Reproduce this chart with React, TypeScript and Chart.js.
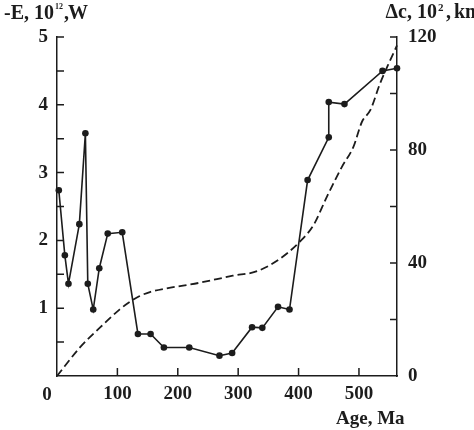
import { useEffect, useRef } from "react";
import { Chart, registerables } from "chart.js";

Chart.register(...registerables);

// solid curve: -E, 10^12 W (left axis)
const eAge = [3, 13, 19, 37, 47, 51, 60, 70, 84, 108, 134, 155, 177, 219, 269, 290, 323, 340, 366, 385, 415, 450, 450, 476, 539, 563];
const eVal = [2.74, 1.78, 1.36, 2.24, 3.58, 1.36, 0.98, 1.59, 2.1, 2.12, 0.62, 0.62, 0.42, 0.42, 0.3, 0.34, 0.72, 0.71, 1.02, 0.98, 2.89, 3.52, 4.04, 4.01, 4.5, 4.54];

// dashed curve: Δc, 10^2 km (right axis)
const cAge = [0, 38, 71, 104, 121, 137, 155, 181, 236, 291, 330, 363, 402, 425, 447, 472, 491, 505, 519, 535, 552, 563];
const cVal = [0, 10.1, 17.1, 23.6, 26.3, 28.3, 29.8, 31, 33, 35.5, 37, 40.6, 47.5, 53.5, 63.5, 74.1, 81.2, 90, 94.2, 103.6, 111.9, 117];

// tick labels / tick marks
const xLabels = [100, 200, 300, 400, 500];
const yLabels = [1, 2, 3, 4, 5];
const y1Labels = [0, 40, 80, 120];
const yMarks = [0.5, 1, 1.5, 2, 2.5, 3, 3.5, 4, 4.5, 5];
const y1Marks = [20, 40, 60, 80, 100, 120];

const FONT = '"Liberation Serif", "Times New Roman", serif';
const INK = "#1c1c1c";

const decor = {
  id: "decor",
  afterDraw(chart: any) {
    const { ctx, scales } = chart;
    const { x, y, y1 } = scales;
    ctx.save();
    ctx.strokeStyle = INK;
    ctx.lineWidth = 1.5;
    ctx.beginPath();
    // inner tick marks
    for (const v of xLabels) {
      const px = x.getPixelForValue(v);
      ctx.moveTo(px, x.top);
      ctx.lineTo(px, x.top - 8);
    }
    for (const v of yMarks) {
      const py = y.getPixelForValue(v);
      ctx.moveTo(y.right, py);
      ctx.lineTo(y.right + 7, py);
    }
    for (const v of y1Marks) {
      const py = y1.getPixelForValue(v);
      ctx.moveTo(y1.left, py);
      ctx.lineTo(y1.left - 7, py);
    }
    ctx.stroke();

    ctx.fillStyle = INK;
    ctx.textBaseline = "alphabetic";
    const big = `bold 20px ${FONT}`;

    // left title
    ctx.font = big;
    ctx.textAlign = "right";
    ctx.fillText("-E, 10", 54, 19);
    ctx.textAlign = "left";
    ctx.font = `bold 8px ${FONT}`;
    ctx.fillText("12", 55, 9);
    ctx.font = big;
    ctx.fillText(",", 64, 19);
    ctx.fillText("W", 68, 19);

    // right title
    ctx.textAlign = "right";
    ctx.fillText("Δc, 10", 437, 18);
    ctx.textAlign = "left";
    ctx.font = `bold 11px ${FONT}`;
    ctx.fillText("2", 438, 11);
    ctx.font = big;
    ctx.fillText(",", 446, 18);
    ctx.fillText("km", 454, 18);

    // x title
    ctx.font = `bold 19px ${FONT}`;
    ctx.fillText("Age, Ma", 336, 424);

    // origin label
    ctx.textAlign = "center";
    ctx.fillText("0", x.getPixelForValue(0) - 10, 400);
    ctx.restore();
  },
};

export default function App() {
  const canvasRef = useRef<HTMLCanvasElement>(null);

  useEffect(() => {
    if (!canvasRef.current) return;

    const tickFont = { family: FONT, size: 19, weight: "bold" as const };

    const chart = new Chart(canvasRef.current, {
      type: "scatter",
      data: {
        datasets: [
          {
            label: "-E",
            data: eAge.map((a, i) => ({ x: a, y: eVal[i] })),
            showLine: true,
            borderColor: INK,
            backgroundColor: INK,
            borderWidth: 1.6,
            pointRadius: 3.3,
            pointBorderWidth: 0,
            yAxisID: "y",
            clip: false,
          },
          {
            label: "Δc",
            data: cAge.map((a, i) => ({ x: a, y: cVal[i] })),
            showLine: true,
            borderColor: INK,
            borderWidth: 1.8,
            borderDash: [8, 4],
            pointRadius: 0,
            cubicInterpolationMode: "monotone",
            yAxisID: "y1",
            clip: false,
          },
        ],
      },
      options: {
        responsive: false,
        animation: false,
        layout: { padding: { top: 37, left: 0, right: 0, bottom: 0 } },
        plugins: {
          legend: { display: false },
          tooltip: { enabled: false },
        },
        scales: {
          x: {
            type: "linear",
            position: "bottom",
            min: 0,
            max: 563,
            afterFit: (s: any) => {
              s.height = 54;
            },
            afterBuildTicks: (s: any) => {
              s.ticks = xLabels.map((v) => ({ value: v }));
            },
            grid: { display: false, drawTicks: false },
            border: { color: INK, width: 1.5 },
            ticks: { color: INK, font: tickFont, padding: 7, maxRotation: 0 },
          },
          y: {
            type: "linear",
            position: "left",
            min: 0,
            max: 5,
            afterFit: (s: any) => {
              s.width = 57;
            },
            afterBuildTicks: (s: any) => {
              s.ticks = yLabels.map((v) => ({ value: v }));
            },
            grid: { display: false, drawTicks: false },
            border: { color: INK, width: 1.5 },
            ticks: { color: INK, font: tickFont, padding: 9 },
          },
          y1: {
            type: "linear",
            position: "right",
            min: 0,
            max: 120,
            afterFit: (s: any) => {
              s.width = 77;
            },
            afterBuildTicks: (s: any) => {
              s.ticks = y1Labels.map((v) => ({ value: v }));
            },
            grid: { display: false, drawTicks: false },
            border: { color: INK, width: 1.5 },
            ticks: { color: INK, font: tickFont, padding: 11 },
          },
        },
      },
      plugins: [decor],
    });

    return () => {
      chart.destroy();
    };
  }, []);

  return (
    <div
      style={{
        position: "absolute",
        left: 0,
        top: 0,
        width: 474,
        height: 430,
        background: "#fff",
        overflow: "hidden",
      }}
    >
      <canvas ref={canvasRef} width={474} height={430}></canvas>
    </div>
  );
}
